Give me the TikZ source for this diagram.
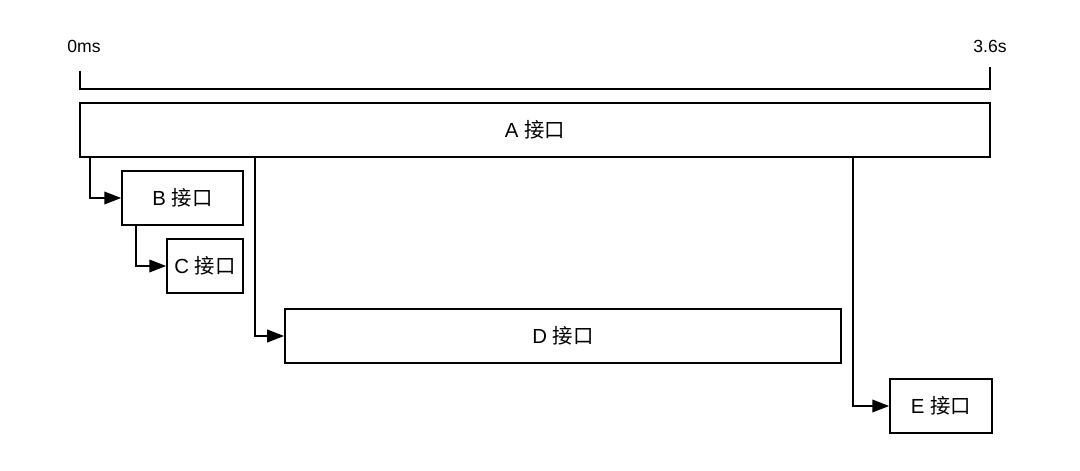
\documentclass[tikz,border=0pt]{standalone}
\usepackage{fontspec}
\setmainfont{Liberation Sans}
\newfontfamily\cjk{Noto Sans CJK SC}
\usetikzlibrary{arrows.meta}

\newcommand{\iface}[1]{#1 {\cjk 接口}}

\tikzset{
  callbox/.style={draw,black,line width=1.2pt,inner sep=0pt,minimum height=1.35cm,font=\fontsize{14.5}{16}\selectfont},
  callarrow/.style={-{Triangle[length=12pt,width=9pt]},black,line width=1.2pt},
  tick/.style={font=\fontsize{12.5}{14}\selectfont}
}

\begin{document}
\begin{tikzpicture}[x=0.025cm,y=-0.025cm]
\useasboundingbox (0,0) rectangle (1080,471);

%draw time scale
\node[tick] (start) at (84,46) {0ms};
\node[tick] (stop) at (990,46) {3.6s};
\draw[black,line width=1.2pt] (80,71)--(80,89)--(990,89)--(990,67);

%draw interface boxes
\node[callbox,minimum width=22.75cm] (A) at (535,130) {\iface{A}};
\node[callbox,minimum width=3.025cm] (B) at (182.5,198) {\iface{B}};
\node[callbox,minimum width=1.9cm] (C) at (205,266) {\iface{C}};
\node[callbox,minimum width=13.9cm] (D) at (563,336) {\iface{D}};
\node[callbox,minimum width=2.55cm] (E) at (941,406) {\iface{E}};

%draw calls
\draw[callarrow] ([xshift=11*0.025cm]A.south west) |- (B.west);
\draw[callarrow] ([xshift=15*0.025cm]B.south west) |- (C.west);
\draw[callarrow] ([xshift=176*0.025cm]A.south west) |- (D.west);
\draw[callarrow] ([xshift=774*0.025cm]A.south west) |- (E.west);

\end{tikzpicture}
\end{document}
